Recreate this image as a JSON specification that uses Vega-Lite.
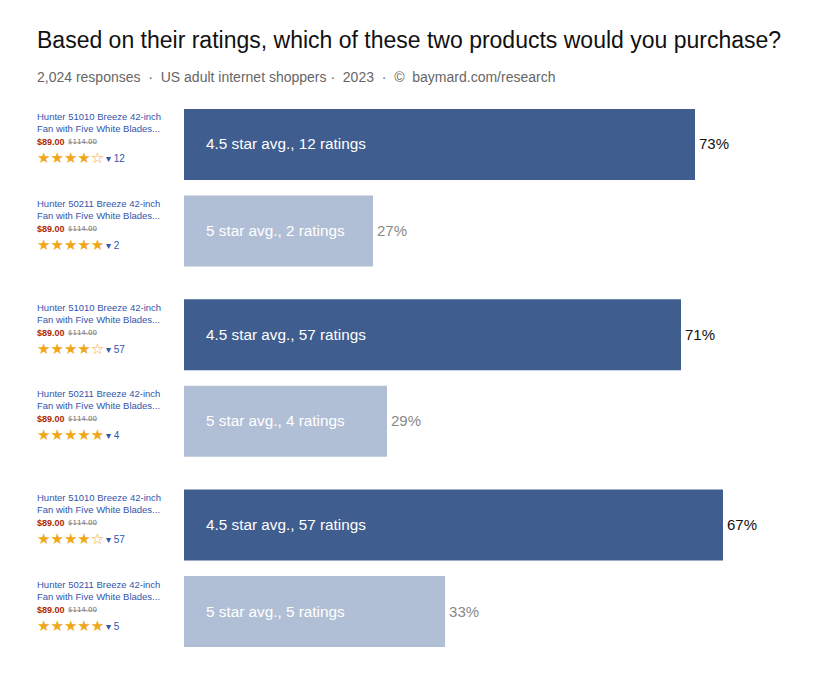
{
  "$schema": "https://vega.github.io/schema/vega-lite/v6.json",
  "background": "white",
  "padding": {"left": 37, "top": 30, "right": 10, "bottom": 10},
  "title": {
    "text": "Based on their ratings, which of these two products would you purchase?",
    "subtitle": "2,024 responses\u00a0 ·\u00a0 US adult internet shoppers ·\u00a0 2023\u00a0 ·\u00a0 ©\u00a0 baymard.com/research",
    "anchor": "start",
    "font": "Liberation Sans",
    "fontSize": 23,
    "fontWeight": "normal",
    "color": "#111111",
    "subtitleFont": "Liberation Sans",
    "subtitleFontSize": 14,
    "subtitleColor": "#666666",
    "subtitlePadding": 18,
    "offset": 24
  },
  "data": {
    "values": [
      {"group": "g1", "product": "A", "name": "Hunter 51010 Breeze 42-inch\nFan with Five White Blades...", "stars": "★★★★☆", "count": "▾ 12", "label": "4.5 star avg., 12 ratings", "value": 73, "pct": "73%"},
      {"group": "g1", "product": "B", "name": "Hunter 50211 Breeze 42-inch\nFan with Five White Blades...", "stars": "★★★★★", "count": "▾ 2", "label": "5 star avg., 2 ratings", "value": 27, "pct": "27%"},
      {"group": "g2", "product": "A", "name": "Hunter 51010 Breeze 42-inch\nFan with Five White Blades...", "stars": "★★★★☆", "count": "▾ 57", "label": "4.5 star avg., 57 ratings", "value": 71, "pct": "71%"},
      {"group": "g2", "product": "B", "name": "Hunter 50211 Breeze 42-inch\nFan with Five White Blades...", "stars": "★★★★★", "count": "▾ 4", "label": "5 star avg., 4 ratings", "value": 29, "pct": "29%"},
      {"group": "g3", "product": "A", "name": "Hunter 51010 Breeze 42-inch\nFan with Five White Blades...", "stars": "★★★★☆", "count": "▾ 57", "label": "4.5 star avg., 57 ratings", "value": 77, "pct": "67%"},
      {"group": "g3", "product": "B", "name": "Hunter 50211 Breeze 42-inch\nFan with Five White Blades...", "stars": "★★★★★", "count": "▾ 5", "label": "5 star avg., 5 ratings", "value": 37.3, "pct": "33%"}
    ]
  },
  "spacing": 0,
  "hconcat": [
    {
      "width": 147,
      "height": 538,
      "encoding": {
        "y": {"field": "group", "type": "nominal", "axis": null, "scale": {"paddingInner": 0.173, "paddingOuter": 0}},
        "yOffset": {"field": "product", "type": "nominal", "scale": {"paddingInner": 0.179, "paddingOuter": 0}},
        "x": {"value": 0}
      },
      "layer": [
        {
          "mark": {"type": "text", "align": "left", "baseline": "middle", "font": "Liberation Sans", "fontSize": 9.5, "color": "#3355aa", "lineBreak": "\n", "lineHeight": 12, "dy": -27},
          "encoding": {"text": {"field": "name"}}
        },
        {
          "mark": {"type": "text", "align": "left", "baseline": "middle", "font": "Liberation Sans", "fontSize": 9, "fontWeight": "bold", "color": "#b12704", "dy": -2},
          "encoding": {"text": {"value": "$89.00"}}
        },
        {
          "mark": {"type": "text", "align": "left", "baseline": "middle", "font": "DejaVu Sans", "fontSize": 7, "color": "#777777", "dx": 31, "dy": -2},
          "encoding": {"text": {"value": "$̶1̶1̶4̶.̶0̶0̶"}}
        },
        {
          "mark": {"type": "text", "align": "left", "baseline": "middle", "font": "DejaVu Sans", "fontSize": 15, "color": "#f0a81a", "dy": 14},
          "encoding": {"text": {"field": "stars"}}
        },
        {
          "mark": {"type": "text", "align": "left", "baseline": "middle", "font": "Liberation Sans", "fontSize": 10, "color": "#3355aa", "dx": 69, "dy": 15},
          "encoding": {"text": {"field": "count"}}
        }
      ]
    },
    {
      "width": 581,
      "height": 538,
      "encoding": {
        "y": {"field": "group", "type": "nominal", "axis": null, "scale": {"paddingInner": 0.173, "paddingOuter": 0}},
        "yOffset": {"field": "product", "type": "nominal", "scale": {"paddingInner": 0.179, "paddingOuter": 0}}
      },
      "layer": [
        {
          "mark": {"type": "bar"},
          "encoding": {
            "x": {"field": "value", "type": "quantitative", "axis": null, "scale": {"domain": [0, 83], "nice": false}},
            "color": {"field": "product", "type": "nominal", "legend": null, "scale": {"domain": ["A", "B"], "range": ["#3f5d8e", "#b1bfd6"]}}
          }
        },
        {
          "mark": {"type": "text", "align": "left", "baseline": "middle", "font": "Liberation Sans", "fontSize": 15.3, "color": "white", "dx": 22},
          "encoding": {
            "x": {"datum": 0, "type": "quantitative"},
            "text": {"field": "label"}
          }
        },
        {
          "mark": {"type": "text", "align": "left", "baseline": "middle", "font": "Liberation Sans", "fontSize": 15, "dx": 4},
          "encoding": {
            "x": {"field": "value", "type": "quantitative"},
            "text": {"field": "pct"},
            "color": {"field": "product", "type": "nominal", "legend": null, "scale": {"domain": ["A", "B"], "range": ["#111111", "#888888"]}}
          }
        }
      ],
      "resolve": {"scale": {"color": "independent"}}
    }
  ],
  "config": {"view": {"stroke": null}, "font": "Liberation Sans"}
}
